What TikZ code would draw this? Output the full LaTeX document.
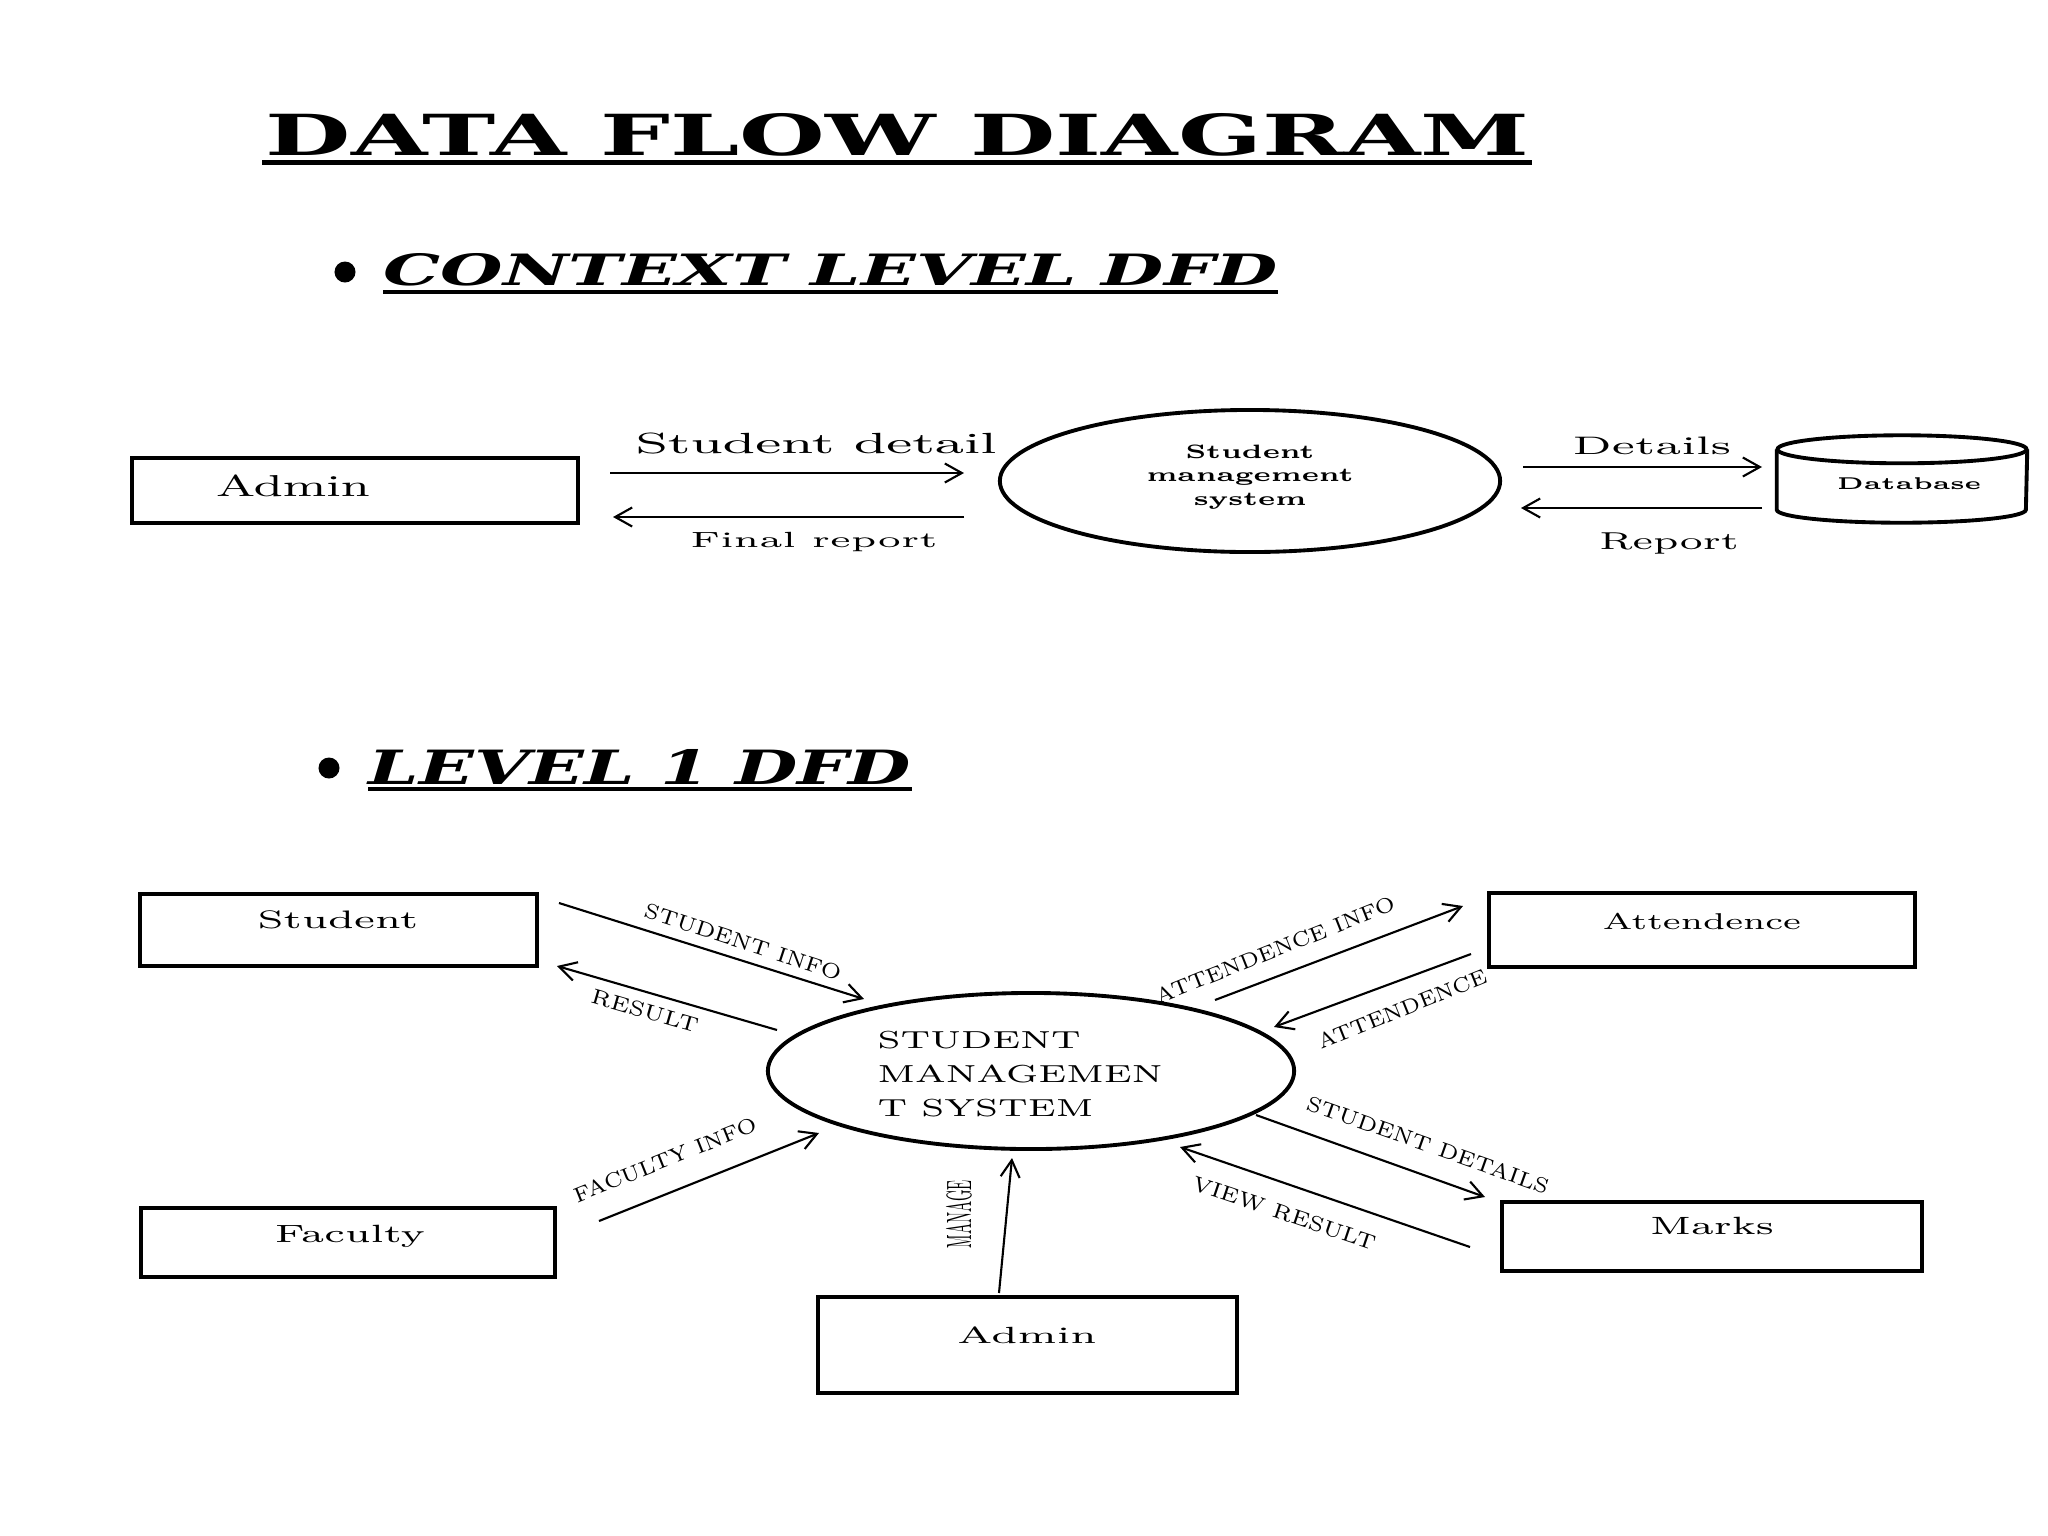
\documentclass[tikz,border=0pt]{standalone}
\usepackage{fontspec}
\usepackage{graphicx}
\usetikzlibrary{arrows.meta,shapes.geometric,positioning}
\newfontfamily\headfont{DejaVu Serif}
\newcommand{\stretchx}[2]{\scalebox{#1}[1]{#2}}
\tikzset{>={Straight Barb[length=1.7mm,width=1.9mm]}}
\tikzset{entity/.style={rectangle,draw,line width=1.2pt,inner sep=0pt},
         process/.style={ellipse,draw,line width=1.1pt,inner sep=0pt},
         txt/.style={inner sep=0pt},
         flow/.style={->,line width=0.6pt},
         flowlabel/.style={inner sep=0pt,font=\fontsize{6}{7}\selectfont},
         uline/.style={line width=1.1pt},
         dbline/.style={line width=1.1pt},
            }
\begin{document}
\begin{tikzpicture}[x=0.01cm,y=-0.01cm]

    \useasboundingbox (0,0) rectangle (2048,1536);

    \node[txt,anchor=south west] (title) at (265,157) {\resizebox{12.63cm}{0.42cm}{\headfont\bfseries DATA FLOW DIAGRAM}};
    \draw[uline,line width=1.3pt] ([shift={(-0.03cm,-0.055cm)}]title.south west) -- ([shift={(0.02cm,-0.055cm)}]title.south east);

    \fill (345,272) circle (0.105cm);
    \node[txt,anchor=south west] (ctxhead) at (383,287) {\resizebox{8.93cm}{0.32cm}{\headfont\bfseries\itshape CONTEXT LEVEL DFD}};
    \draw[uline] ([yshift=-0.05cm]ctxhead.south west) -- ([yshift=-0.05cm]ctxhead.south east);

    \fill (329,768) circle (0.105cm);
    \node[txt,anchor=south west] (lvlhead) at (368,785) {\resizebox{5.42cm}{0.35cm}{\headfont\bfseries\itshape LEVEL 1 DFD}};
    \draw[uline] ([yshift=-0.04cm]lvlhead.south west) -- ([yshift=-0.04cm]lvlhead.south east);

    % context level
    \node[entity,minimum width=4.46cm,minimum height=0.65cm] (admin1) at (355,490.5) {};
    \node[txt,font=\fontsize{8.6}{10}\selectfont] (admin1txt) at (293,486) {\stretchx{1.68}{Admin}};

    \node[process,minimum width=5.0cm,minimum height=1.42cm] (sms1) at (1250,481) {};
    \node[txt,align=center,font=\fontsize{5.5}{6.7}\selectfont\bfseries] (sms1txt) at (1250,477)
        {\stretchx{1.4}{Student}\\\stretchx{1.4}{management}\\\stretchx{1.4}{system}};

    \node[txt,minimum width=2.49cm,minimum height=0.86cm] (db) at (1902,479) {};
    \draw[dbline] ([yshift=-0.14cm]db.north) ellipse [x radius=1.245cm,y radius=0.14cm];
    \draw[dbline] ([yshift=-0.14cm]db.north west) -- ([yshift=0.13cm]db.south west)
        arc [start angle=180,end angle=360,x radius=1.245cm,y radius=0.13cm] -- ([yshift=-0.14cm]db.north east);
    \node[txt,font=\fontsize{4.85}{6}\selectfont\bfseries] (dbtxt) at (1909,484) {\stretchx{1.39}{Database}};

    \coordinate (sd1) at (610,473);
    \coordinate (sd2) at (964,473);
    \coordinate (fr1) at (964,517);
    \coordinate (fr2) at (613,517);
    \coordinate (det1) at (1523,467);
    \coordinate (det2) at (1762,467);
    \coordinate (rep1) at (1762,508);
    \coordinate (rep2) at (1521,508);

    \draw[flow] (sd1) -- (sd2);
    \draw[flow] (fr1) -- (fr2);
    \draw[flow] (det1) -- (det2);
    \draw[flow] (rep1) -- (rep2);

    \node[txt,font=\fontsize{8.3}{10}\selectfont] (sdlbl) at (816,444) {\stretchx{1.88}{Student detail}};
    \node[txt,font=\fontsize{6.25}{8}\selectfont] (frlbl) at (814,542) {\stretchx{1.73}{Final report}};
    \node[txt,font=\fontsize{7.2}{9}\selectfont] (detlbl) at (1652,446) {\stretchx{1.8}{Details}};
    \node[txt,font=\fontsize{6.95}{9}\selectfont] (replbl) at (1669,544) {\stretchx{1.65}{Report}};

    % level 1
    \node[process,minimum width=5.26cm,minimum height=1.56cm] (sms2) at (1031,1071) {};
    \node[txt,anchor=west,align=left,font=\fontsize{7}{9.7}\selectfont] (sms2txt) at (877,1074)
        {\stretchx{1.48}{STUDENT}\\\stretchx{1.48}{MANAGEMEN}\\\stretchx{1.48}{T SYSTEM}};

    \node[entity,minimum width=3.97cm,minimum height=0.72cm] (student) at (338.5,930) {};
    \node[entity,minimum width=4.26cm,minimum height=0.74cm] (attend) at (1702,930) {};
    \node[entity,minimum width=4.14cm,minimum height=0.69cm] (faculty) at (348,1242.5) {};
    \node[entity,minimum width=4.20cm,minimum height=0.69cm] (marks) at (1712,1236.5) {};
    \node[entity,minimum width=4.19cm,minimum height=0.96cm] (admin2) at (1027.5,1345) {};

    \node[txt,font=\fontsize{7.2}{9}\selectfont] (studenttxt) at (338,920) {\stretchx{1.63}{Student}};
    \node[txt,font=\fontsize{6.5}{8}\selectfont] (attendtxt) at (1702,921) {\stretchx{1.54}{Attendence}};
    \node[txt,font=\fontsize{7.1}{9}\selectfont] (facultytxt) at (350,1236) {\stretchx{1.63}{Faculty}};
    \node[txt,font=\fontsize{7.1}{9}\selectfont] (markstxt) at (1712,1226) {\stretchx{1.6}{Marks}};
    \node[txt,font=\fontsize{6.66}{8}\selectfont] (admin2txt) at (1027,1335) {\stretchx{1.78}{Admin}};

    \coordinate (si1) at (559,903);
    \coordinate (si2) at (864,999);
    \coordinate (res1) at (777,1030);
    \coordinate (res2) at (557,966);
    \coordinate (ai1) at (1215,1000);
    \coordinate (ai2) at (1463,906);
    \coordinate (att1) at (1471,954);
    \coordinate (att2) at (1274,1027);
    \coordinate (sdt1) at (1256,1115);
    \coordinate (sdt2) at (1485,1197);
    \coordinate (vr1) at (1470,1247);
    \coordinate (vr2) at (1180,1147);
    \coordinate (fi1) at (599,1221);
    \coordinate (fi2) at (819,1133);
    \coordinate (mg1) at (999,1293);
    \coordinate (mg2) at (1012,1158);

    \draw[flow] (si1) -- (si2);
    \draw[flow] (res1) -- (res2);
    \draw[flow] (ai1) -- (ai2);
    \draw[flow] (att1) -- (att2);
    \draw[flow] (sdt1) -- (sdt2);
    \draw[flow] (vr1) -- (vr2);
    \draw[flow] (fi1) -- (fi2);
    \draw[flow] (mg1) -- (mg2);

    \node[flowlabel,rotate=-18.3] (silbl) at (743,942) {\stretchx{1.04}{STUDENT INFO}};
    \node[flowlabel,rotate=-16.2] (reslbl) at (645,1011) {\stretchx{1.09}{RESULT}};
    \node[flowlabel,rotate=21.7] (ailbl) at (1275,950) {\stretchx{1.01}{ATTENDENCE INFO}};
    \node[flowlabel,rotate=21.9] (attlbl) at (1402,1009) {\stretchx{1.0}{ATTENDENCE}};
    \node[flowlabel,rotate=-19.5] (sdtlbl) at (1428,1145) {\stretchx{1.04}{STUDENT DETAILS}};
    \node[flowlabel,rotate=-18.6] (vrlbl) at (1284,1213) {\stretchx{1.06}{VIEW RESULT}};
    \node[flowlabel,rotate=21.8] (filbl) at (665,1160) {\stretchx{1.01}{FACULTY INFO}};
    \node[flowlabel,rotate=90,font=\fontsize{10}{12}\selectfont] (mglbl) at (959,1214) {\stretchx{0.42}{MANAGE}};

\end{tikzpicture}
\end{document}
